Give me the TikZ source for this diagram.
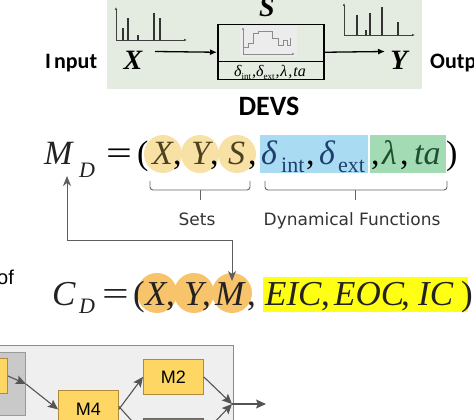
\documentclass[tikz,border=0pt]{standalone}
\usepackage{fontspec}
\setmainfont{Liberation Serif}
\newfontfamily\tms{Liberation Serif}
\newfontfamily\carl{Carlito}
\newfontfamily\dvs{DejaVu Sans}
\newfontfamily\lsans{Liberation Sans}
\usetikzlibrary{arrows.meta,calc}
\newcommand\myfs[1]{\fontsize{#1}{#1}\selectfont}
\definecolor{topbg}{HTML}{E4EBE0}
\definecolor{plotbg}{HTML}{ECECEC}
\definecolor{hlY}{HTML}{F8E1A4}
\definecolor{hlB}{HTML}{A9DCF2}
\definecolor{hlG}{HTML}{A3DBB5}
\definecolor{hlO}{HTML}{F7C36B}
\definecolor{hlYY}{HTML}{FFFF14}
\definecolor{dk}{HTML}{222222}
\definecolor{ol}{HTML}{4B4220}
\definecolor{bl}{HTML}{1F3F6F}
\definecolor{gr}{HTML}{1F4F2F}
\definecolor{connc}{HTML}{5E5E5E}
\definecolor{panelbg}{HTML}{EFEFEF}
\definecolor{grpbg}{HTML}{C9C9C9}
\definecolor{myel}{HTML}{FDD663}
\definecolor{myeld}{HTML}{B08A3A}
\definecolor{olive}{HTML}{7F7862}
\begin{document}
\begin{tikzpicture}[x=1pt,y=-1pt,
  eq/.style={inner sep=0pt,anchor=base west,font=\tms\itshape\myfs{34}},
  equ/.style={inner sep=0pt,anchor=base west,font=\tms\myfs{34}},
  eqc/.style={inner sep=0pt,anchor=base west,font=\tms\itshape\myfs{35},text=dk},
  equc/.style={inner sep=0pt,anchor=base west,font=\tms\myfs{35},text=dk},
  eqsub/.style={inner sep=0pt,anchor=base west,font=\tms\myfs{22}},
  eqsubi/.style={inner sep=0pt,anchor=base west,font=\tms\itshape\myfs{22}},
  tarrow/.style={draw=black,line width=1.3pt,-{Latex[length=7pt,width=6pt]}},
  axisl/.style={draw=black!75,line width=0.6pt,-{Latex[length=3pt,width=2.5pt]}},
  barl/.style={draw=black!80,line width=2pt},
  bracel/.style={draw=black!60,line width=0.9pt,rounded corners=3pt},
  conn/.style={draw=connc,line width=0.9pt,{Stealth[length=10pt,width=8pt,inset=3pt]}-{Stealth[length=10pt,width=8pt,inset=3pt]}},
  mbox/.style={draw=myeld,fill=myel,inner sep=0pt,line width=0.8pt,font=\lsans\myfs{18}},
  barrow/.style={draw=black!67,line width=1.1pt,-{Stealth[length=10pt,width=9pt,inset=2pt]}},
  ]
\useasboundingbox (0,0) rectangle (474,420);

% ---------- top DEVS block ----------
\node[fill=topbg,inner sep=0pt,anchor=north west,minimum width=315pt,minimum height=89pt] (topbox) at (107,0) {};
\node[draw=black,line width=1.5pt,fill=topbg,inner sep=0pt,anchor=north west,minimum width=106pt,minimum height=55pt] (sys) at (217,24) {};
\draw[black,line width=1pt] (217,62) -- (323,62);
\fill[plotbg] (240,26) rectangle (297,57);
\draw[axisl,draw=black!45] (243,54) -- (243,27);
\draw[axisl,draw=black!45] (243,54) -- (295,54);
\draw[black!45,line width=0.8pt] (243,47) -- (248,47) -- (248,43) -- (253,43) -- (253,33) -- (258,33) -- (258,31) -- (272,31) -- (272,38) -- (278,38) -- (278,45) -- (283,45) -- (283,40) -- (287,40) -- (287,45) -- (290,45) -- (290,38);
\node[inner sep=0pt,anchor=base,font=\tms\itshape\myfs{16}] (sysfn) at (270,77) {δ\raisebox{-2.5pt}{\myfs{9}\upshape int}\kern1pt,δ\raisebox{-2.5pt}{\myfs{9}\upshape ext}\kern1pt,\kern1ptλ\kern1pt,\kern1ptta};
\node[inner sep=0pt,anchor=base,font=\tms\bfseries\itshape\myfs{28}] (Sn) at (267,17) {S};
\node[inner sep=0pt,anchor=base,font=\tms\bfseries\itshape\myfs{28}] (Xn) at (133,70) {X};
\node[inner sep=0pt,anchor=base,font=\tms\bfseries\itshape\myfs{28}] (Yn) at (399,70) {Y};
\node[inner sep=0pt,anchor=base west,font=\carl\bfseries\myfs{22}] (inp) at (45,69) {I\kern3pt nput};
\node[inner sep=0pt,anchor=base west,font=\carl\bfseries\myfs{22}] (outp) at (430,69) {Output};
\node[inner sep=0pt,anchor=base,font=\carl\bfseries\myfs{28}] (devs) at (269,115) {DEVS};
\coordinate (xs) at (155,51.5);
\coordinate (ye) at (385,51.5);
\draw[tarrow] (xs) -- (sys.west);
\draw[tarrow] (sys.east) -- (ye);
% input plot
\draw[axisl] (116,40) -- (116,7);
\draw[axisl] (116,40) -- (187,40);
\foreach \x/\h in {123/28,128/18,138/35,154/13,160/18} \draw[barl] (\x,40) -- (\x,\h);
% output plot
\draw[axisl] (344,35) -- (344,3);
\draw[axisl] (344,35) -- (415,35);
\foreach \x/\h in {357/15,366/30,370/13,382/7,398/22} \draw[barl] (\x,35) -- (\x,\h);

% ---------- M_D equation ----------
\fill[hlY] (163,154) circle (19);
\fill[hlY] (200,154) circle (19);
\fill[hlY] (237,154) circle (19);
\fill[hlB] (260,135) rectangle (368,173);
\fill[hlG] (370,135) rectangle (446,173);
\node[eq,text=dk] (MDm) at (44,164) {M};
\node[eqsubi,text=dk] (MDd) at (79,177) {D};
\node[equ] (MDeq) at (106,164) {\scalebox{1.35}[1]{=}};
\node[equ] (MDlp) at (137,164) {(};
\node[eq,text=ol] (MDx) at (152,164) {X};
\node[equ] (MDc1) at (173,164) {,};
\node[eq,text=ol] (MDy) at (191,164) {Y};
\node[equ] (MDc2) at (210,164) {,};
\node[eq,text=ol] (MDs) at (228,164) {S};
\node[equ] (MDc3) at (248,164) {,};
\node[eq,text=bl] (MDd1) at (261,164) {δ};
\node[eqsub,text=bl] (MDint) at (281,172) {int};
\node[equ] (MDc4) at (306,164) {,};
\node[eq,text=bl] (MDd2) at (319,164) {δ};
\node[eqsub,text=bl] (MDext) at (338,172) {ext};
\node[equ] (MDc5) at (371,164) {,};
\node[eq,text=gr] (MDl) at (382,164) {λ};
\node[equ] (MDc6) at (400,164) {,};
\node[eq,text=gr] (MDta) at (414,164) {ta};
\node[equ] (MDrp) at (446,164) {)};
% braces
\draw[bracel] (150,181) -- (150,190) -- (250,190) -- (250,181);
\draw[bracel] (200,190) -- (200,200);
\draw[bracel] (265,181) -- (265,190) -- (447,190) -- (447,181);
\draw[bracel] (355,190) -- (355,200);
\node[inner sep=0pt,anchor=base,font=\dvs\myfs{17},text=black!80] (sets) at (197,225) {Sets};
\node[inner sep=0pt,anchor=base,font=\dvs\myfs{17},text=black!80] (dynf) at (352,225) {Dynamical Functions};

% ---------- C_D equation ----------
\fill[hlO] (157,293) circle (20);
\fill[hlO] (194,293) circle (20);
\fill[hlO] (232,293) circle (20);
\fill[hlYY] (263,277) rectangle (468,312);
\node[eqc] (CDc) at (52,305) {C};
\node[eqsubi,text=dk] (CDd) at (79,313) {D};
\node[equc] (CDeq) at (102,305) {\scalebox{1.35}[1]{=}};
\node[equc] (CDlp) at (133,305) {(};
\node[eqc] (CDx) at (145,305) {X};
\node[equc] (CDc1) at (166,305) {,};
\node[eqc] (CDy) at (184,305) {Y};
\node[equc] (CDc2) at (202,305) {,};
\node[eqc] (CDm) at (215,305) {M};
\node[equc] (CDc3) at (247,305) {,};
\node[eqc] (CDeic) at (265,305) {EIC};
\node[equc] (CDc4) at (321,305) {,};
\node[eqc] (CDeoc) at (334,305) {EOC};
\node[equc] (CDc5) at (401,305) {,};
\node[eqc] (CDic) at (418,305) {IC};
\node[equc] (CDrp) at (461,305) {)};
\node[inner sep=0pt,anchor=base west,font=\lsans\myfs{20}] (ofn) at (-3,284) {of};

% connector between M_D and C_D
\coordinate (tA) at (67,176);
\coordinate (tB) at (232,281);
\coordinate (bend) at (67,240);
\draw[conn] (tA) -- (bend) -| (tB);

% ---------- bottom coupled model panel ----------
\node[draw=black!45,fill=panelbg,inner sep=0pt,anchor=north west,minimum width=240pt,minimum height=90pt,line width=0.8pt] (panel) at (-7,345) {};
\node[draw=black!40,fill=grpbg,inner sep=0pt,anchor=north west,minimum width=32pt,minimum height=63pt,line width=0.8pt] (grp) at (-7,352) {};
\node[mbox,anchor=north west,minimum width=14pt,minimum height=35pt] (m1) at (-7,358) {};
\node[mbox,anchor=north west,minimum width=60pt,minimum height=38pt] (m4) at (58,390) {M4};
\node[mbox,anchor=north west,minimum width=60pt,minimum height=35pt] (m2) at (143,359) {M2};
\node[draw=black!60,fill=olive,inner sep=0pt,anchor=north west,minimum width=60pt,minimum height=30pt,line width=0.8pt] (m3) at (143,418) {};
\coordinate (jn) at (232,404);
\coordinate (outc) at (266,404);
\draw[barrow] (m1.east) -- (grp.east);
\draw[barrow] (grp.east) -- (m4.west);
\draw[barrow] (m4.east) -- (m2.west);
\draw[barrow] (m2.east) -- (jn);
\draw[barrow] (m3.east) -- (jn);
\draw[barrow] (jn) -- (outc);
\draw[draw=black!67,line width=1.1pt] ([yshift=3pt]m4.east) -- (m3.west);
\end{tikzpicture}
\end{document}
